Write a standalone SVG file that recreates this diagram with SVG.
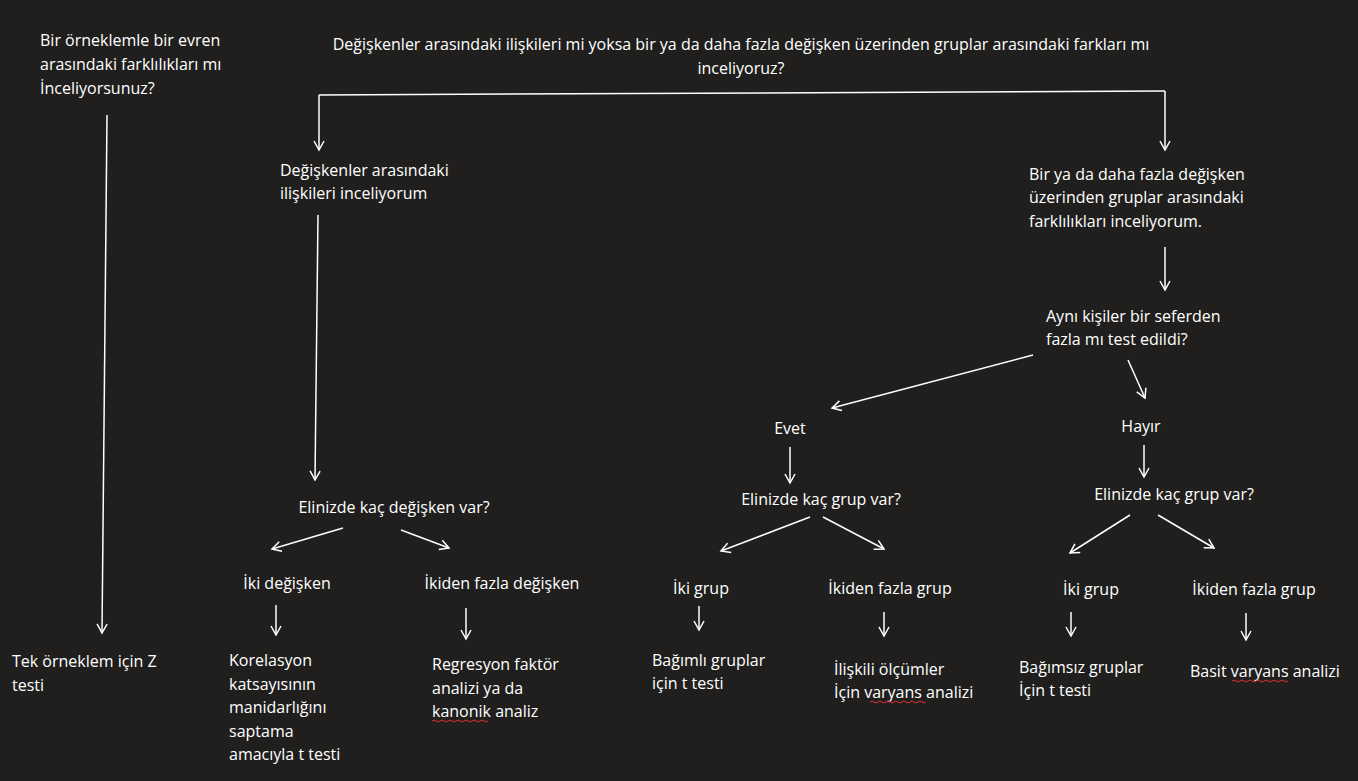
<svg xmlns="http://www.w3.org/2000/svg" width="1358" height="781" viewBox="0 0 1358 781">
<defs>
<style>
text{font-family:"Open Sans","Noto Sans","Liberation Sans",sans-serif;font-size:16px;fill:#ffffff}
.c{text-anchor:middle}
.ln{stroke:#ffffff;stroke-width:1.5;fill:none}
.sq{stroke:#e03030;stroke-width:1;fill:none}
</style>
<marker id="ah" markerWidth="14" markerHeight="14" refX="10" refY="6" orient="auto" markerUnits="userSpaceOnUse">
<path d="M1,1 L10,6 L1,11" stroke="#ffffff" stroke-width="1.5" fill="none"/>
</marker>
</defs>
<rect width="1358" height="781" fill="#201f1e"/>
<g id="n-sample"><text x="40" y="46">Bir örneklemle bir evren</text><text x="40" y="70">arasındaki farklılıkları mı</text><text x="40" y="94">İnceliyorsunuz?</text></g>
<g id="n-root"><text class="c" x="741" y="50">Değişkenler arasındaki ilişkileri mi yoksa bir ya da daha fazla değişken üzerinden gruplar arasındaki farkları mı</text><text class="c" x="741" y="74">inceliyoruz?</text></g>
<g id="n-rel"><text x="280" y="176">Değişkenler arasındaki</text><text x="280" y="199">ilişkileri inceliyorum</text></g>
<g id="n-grp"><text x="1029" y="180">Bir ya da daha fazla değişken</text><text x="1029" y="203">üzerinden gruplar arasındaki</text><text x="1029" y="227">farklılıkları inceliyorum.</text></g>
<g id="n-same"><text x="1046" y="322">Aynı kişiler bir seferden</text><text x="1046" y="345">fazla mı test edildi?</text></g>
<g id="n-evet"><text class="c" x="790" y="434">Evet</text></g>
<g id="n-hayir"><text class="c" x="1141" y="432">Hayır</text></g>
<g id="n-kacdeg"><text class="c" x="394" y="513">Elinizde kaç değişken var?</text></g>
<g id="n-kacgrup1"><text class="c" x="821" y="505">Elinizde kaç grup var?</text></g>
<g id="n-kacgrup2"><text class="c" x="1174" y="500">Elinizde kaç grup var?</text></g>
<g id="n-ikideg"><text class="c" x="287" y="589">İki değişken</text></g>
<g id="n-fazladeg"><text class="c" x="502" y="589">İkiden fazla değişken</text></g>
<g id="n-iki1"><text class="c" x="701" y="594">İki grup</text></g>
<g id="n-fazla1"><text class="c" x="890" y="594">İkiden fazla grup</text></g>
<g id="n-iki2"><text class="c" x="1091" y="595">İki grup</text></g>
<g id="n-fazla2"><text class="c" x="1254" y="595">İkiden fazla grup</text></g>
<g id="n-z"><text x="12" y="667">Tek örneklem için Z</text><text x="12" y="691">testi</text></g>
<g id="n-kor"><text x="229" y="666">Korelasyon</text><text x="229" y="690">katsayısının</text><text x="229" y="713">manidarlığını</text><text x="229" y="737">saptama</text><text x="229" y="760">amacıyla t testi</text></g>
<g id="n-reg"><text x="432" y="670">Regresyon faktör</text><text x="432" y="694">analizi ya da</text><text x="432" y="717">kanonik analiz</text>
<path class="sq" d="M432,721 q2,-2 4,0 t4,0 t4,0 t4,0 t4,0 t4,0 t4,0 t4,0 t4,0 t4,0 t4,0 t4,0 t4,0 t4,0"/></g>
<g id="n-bagimli"><text x="652" y="666">Bağımlı gruplar</text><text x="652" y="689">için t testi</text></g>
<g id="n-iliskili"><text x="834" y="675">İlişkili ölçümler</text><text x="834" y="698">İçin varyans analizi</text>
<path class="sq" d="M870,702 q2,-2 4,0 t4,0 t4,0 t4,0 t4,0 t4,0 t4,0 t4,0 t4,0 t4,0 t4,0 t4,0 t4,0 t4,0"/></g>
<g id="n-bagimsiz"><text x="1019" y="673">Bağımsız gruplar</text><text x="1019" y="696">İçin t testi</text></g>
<g id="n-basit"><text x="1190" y="677">Basit varyans analizi</text>
<path class="sq" d="M1232,681 q2,-2 4,0 t4,0 t4,0 t4,0 t4,0 t4,0 t4,0 t4,0 t4,0 t4,0 t4,0 t4,0 t4,0 t4,0"/></g>
<g id="connectors" class="ln">
<line x1="107" y1="115" x2="102" y2="633" marker-end="url(#ah)"/>
<line x1="319" y1="95" x2="1165" y2="91"/>
<line x1="319" y1="95" x2="319" y2="150" marker-end="url(#ah)"/>
<line x1="1165" y1="91" x2="1165" y2="150" marker-end="url(#ah)"/>
<line x1="318" y1="215" x2="315" y2="480" marker-end="url(#ah)"/>
<line x1="1165" y1="247" x2="1165" y2="290" marker-end="url(#ah)"/>
<line x1="1033" y1="355" x2="832" y2="408" marker-end="url(#ah)"/>
<line x1="1128" y1="360" x2="1145" y2="398" marker-end="url(#ah)"/>
<line x1="790" y1="447" x2="790" y2="483" marker-end="url(#ah)"/>
<line x1="1144" y1="445" x2="1144" y2="477" marker-end="url(#ah)"/>
<line x1="343" y1="528" x2="272" y2="549" marker-end="url(#ah)"/>
<line x1="401" y1="530" x2="449" y2="548" marker-end="url(#ah)"/>
<line x1="810" y1="517" x2="721" y2="551" marker-end="url(#ah)"/>
<line x1="823" y1="517" x2="884" y2="549" marker-end="url(#ah)"/>
<line x1="1130" y1="515" x2="1070" y2="553" marker-end="url(#ah)"/>
<line x1="1158" y1="515" x2="1214" y2="548" marker-end="url(#ah)"/>
<line x1="276" y1="605" x2="276" y2="635" marker-end="url(#ah)"/>
<line x1="466" y1="608" x2="466" y2="639" marker-end="url(#ah)"/>
<line x1="699" y1="606" x2="699" y2="630" marker-end="url(#ah)"/>
<line x1="884" y1="612" x2="884" y2="636" marker-end="url(#ah)"/>
<line x1="1071" y1="612" x2="1071" y2="636" marker-end="url(#ah)"/>
<line x1="1246" y1="613" x2="1246" y2="640" marker-end="url(#ah)"/>
</g>
</svg>
